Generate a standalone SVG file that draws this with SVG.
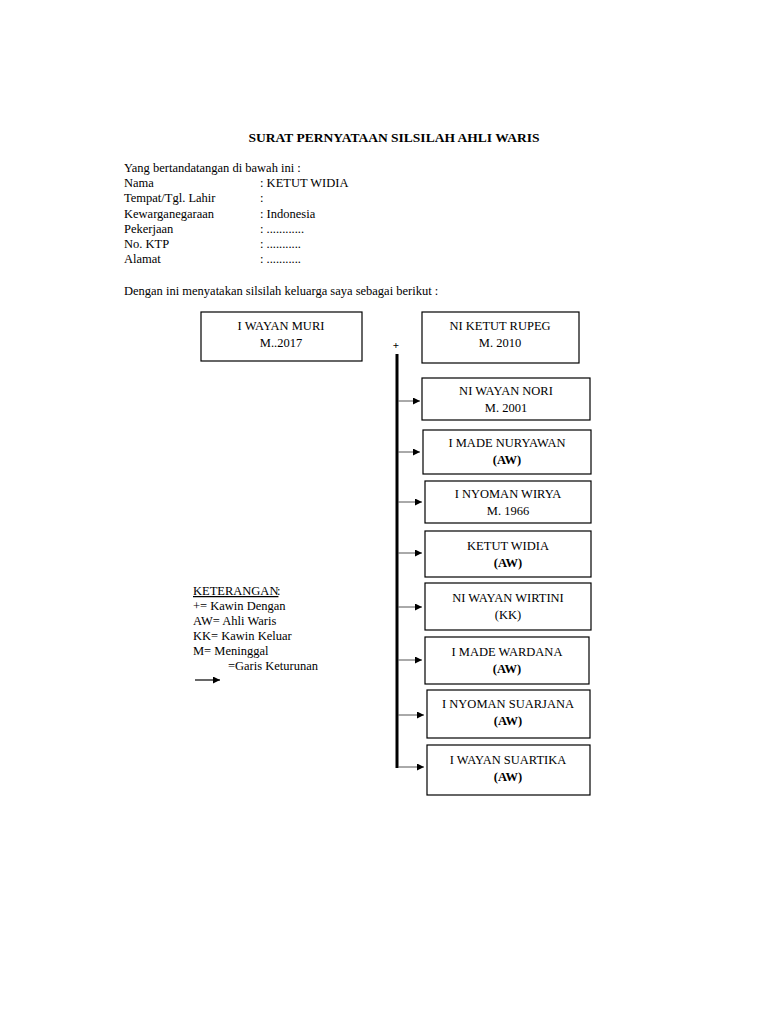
<svg xmlns="http://www.w3.org/2000/svg" width="768" height="1024" viewBox="0 0 768 1024">
<style>
text{font-family:"Liberation Serif","DejaVu Serif",serif;font-size:12.5px;fill:#000}
.t{font-size:13.5px;font-weight:bold}
.c{text-anchor:middle}
.b{font-weight:bold}
.n{fill:#fff;stroke:#000;stroke-width:1.2}
.a{stroke:#555;stroke-width:1;fill:none;marker-end:url(#ar)}
</style>
<defs><marker id="ar" viewBox="0 0 10 10" refX="10" refY="5" markerWidth="7" markerHeight="7" markerUnits="userSpaceOnUse" orient="auto"><path d="M0,0L10,5L0,10z" fill="#000"/></marker></defs>
<rect x="0" y="0" width="768" height="1024" fill="#fff"/>
<text class="t c" x="394" y="142">SURAT PERNYATAAN SILSILAH AHLI WARIS</text>
<g id="header">
<text x="124" y="172">Yang bertandatangan di bawah ini :</text>
<text x="124" y="187">Nama</text><text x="260" y="187">: KETUT WIDIA</text>
<text x="124" y="202">Tempat/Tgl. Lahir</text><text x="260" y="202">:</text>
<text x="124" y="218">Kewarganegaraan</text><text x="260" y="218">: Indonesia</text>
<text x="124" y="233">Pekerjaan</text><text x="260" y="233">: ............</text>
<text x="124" y="248">No. KTP</text><text x="260" y="248">: ...........</text>
<text x="124" y="263">Alamat</text><text x="260" y="263">: ...........</text>
<text x="124" y="295">Dengan ini menyatakan silsilah keluarga saya sebagai berikut :</text>
</g>
<g id="n0"><rect class="n" x="201" y="312" width="161" height="49"/><text class="c" x="281" y="330">I WAYAN MURI</text><text class="c" x="281" y="347">M..2017</text></g>
<g id="n1"><rect class="n" x="422" y="312" width="157" height="51"/><text class="c" x="500" y="330">NI KETUT RUPEG</text><text class="c" x="500" y="347">M. 2010</text></g>
<text class="b c" x="396" y="349" style="font-size:11px">+</text>
<g id="n2"><rect class="n" x="422" y="378" width="168" height="42"/><text class="c" x="506" y="395">NI WAYAN NORI</text><text class="c" x="506" y="412">M. 2001</text></g>
<g id="n3"><rect class="n" x="423" y="430" width="168" height="44"/><text class="c" x="507" y="447">I MADE NURYAWAN</text><text class="b c" x="507" y="464">(AW)</text></g>
<g id="n4"><rect class="n" x="425" y="481" width="166" height="42"/><text class="c" x="508" y="498">I NYOMAN WIRYA</text><text class="c" x="508" y="515">M. 1966</text></g>
<g id="n5"><rect class="n" x="425" y="531" width="166" height="46"/><text class="c" x="508" y="550">KETUT WIDIA</text><text class="b c" x="508" y="567">(AW)</text></g>
<g id="n6"><rect class="n" x="425" y="583" width="166" height="47"/><text class="c" x="508" y="602">NI WAYAN WIRTINI</text><text class="c" x="508" y="619">(KK)</text></g>
<g id="n7"><rect class="n" x="425" y="637" width="164" height="47"/><text class="c" x="507" y="656">I MADE WARDANA</text><text class="b c" x="507" y="673">(AW)</text></g>
<g id="n8"><rect class="n" x="427" y="690" width="163" height="48"/><text class="c" x="508" y="708">I NYOMAN SUARJANA</text><text class="b c" x="508" y="725">(AW)</text></g>
<g id="n9"><rect class="n" x="427" y="745" width="163" height="50"/><text class="c" x="508" y="764">I WAYAN SUARTIKA</text><text class="b c" x="508" y="781">(AW)</text></g>
<g id="connectors">
<line x1="397" y1="354" x2="397" y2="768" stroke="#000" stroke-width="3"/>
<line class="a" x1="398" y1="401" x2="420" y2="401"/>
<line class="a" x1="398" y1="452" x2="420" y2="452"/>
<line class="a" x1="398" y1="502" x2="422" y2="502"/>
<line class="a" x1="398" y1="553" x2="422" y2="553"/>
<line class="a" x1="398" y1="607" x2="422" y2="607"/>
<line class="a" x1="398" y1="660" x2="422" y2="660"/>
<line class="a" x1="398" y1="715" x2="424" y2="715"/>
<line class="a" x1="398" y1="767" x2="424" y2="767"/>
</g>
<g id="legend">
<text x="193" y="595" text-decoration="underline">KETERANGAN</text><text x="277" y="595">:</text>
<text x="193" y="610">+= Kawin Dengan</text>
<text x="193" y="625">AW= Ahli Waris</text>
<text x="193" y="640">KK= Kawin Keluar</text>
<text x="193" y="655">M= Meninggal</text>
<text x="228" y="670">=Garis Keturunan</text>
<line x1="195" y1="680" x2="220" y2="680" stroke="#000" stroke-width="1.2" marker-end="url(#ar)"/>
</g>
</svg>
